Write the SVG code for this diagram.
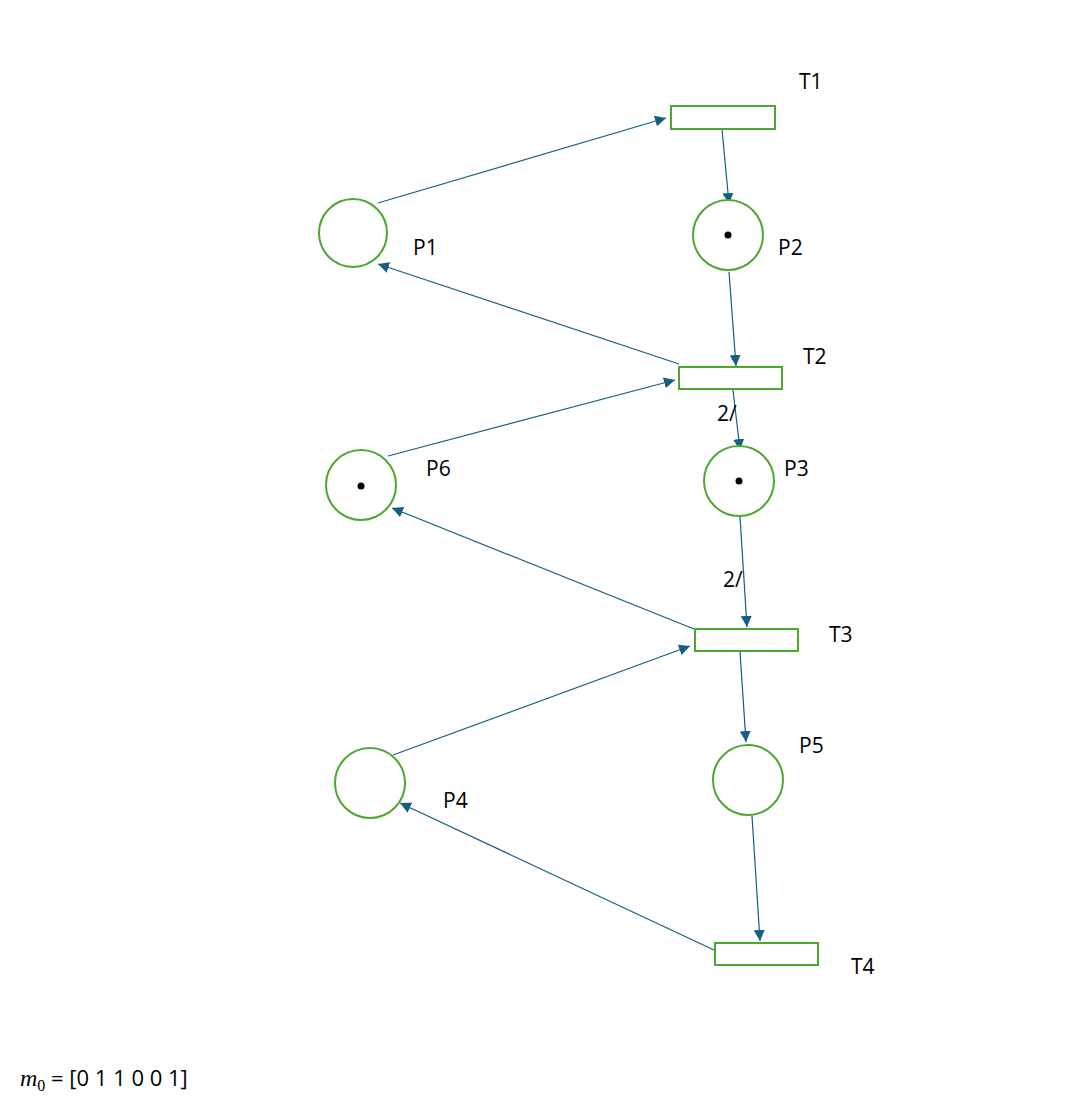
<svg xmlns="http://www.w3.org/2000/svg" width="1074" height="1112" viewBox="0 0 1074 1112">
<style>
.p{fill:#fff;stroke:#4ea72e;stroke-width:2}
.t{fill:#fff;stroke:#4ea72e;stroke-width:2}
.l{font-family:"Open Sans","Liberation Sans",sans-serif;font-size:21px;fill:#000}
.a{stroke:#156082;stroke-width:1.2;fill:none;marker-end:url(#ah)}
</style>
<defs><marker id="ah" viewBox="0 0 10 10" refX="10" refY="5" markerWidth="11" markerHeight="11" markerUnits="userSpaceOnUse" orient="auto"><path d="M0,0L10,5L0,10z" fill="#156082"/></marker></defs>
<rect width="1074" height="1112" fill="#fff"/>
<g id="connectors">
<line class="a" x1="378" y1="203" x2="666" y2="118"/>
<line class="a" x1="722" y1="129" x2="729" y2="204"/>
<line class="a" x1="729" y1="272" x2="736" y2="366"/>
<line class="a" x1="679" y1="364" x2="378" y2="264"/>
<line class="a" x1="388" y1="456" x2="675" y2="380"/>
<line class="a" x1="733" y1="390" x2="740" y2="450"/>
<line class="a" x1="740" y1="517" x2="747" y2="627"/>
<line class="a" x1="694" y1="629" x2="392" y2="508"/>
<line class="a" x1="393" y1="755" x2="690" y2="646"/>
<line class="a" x1="740" y1="652" x2="746" y2="742"/>
<line class="a" x1="752" y1="816" x2="760" y2="941"/>
<line class="a" x1="714" y1="950" x2="400" y2="803"/>
</g>
<g id="T1"><rect class="t" x="671" y="106" width="104" height="23"/><text class="l" x="799" y="89">T1</text></g>
<g id="P1"><circle class="p" cx="353" cy="233" r="34"/><text class="l" x="413" y="255">P1</text></g>
<g id="P2"><circle class="p" cx="728" cy="235" r="35"/><circle cx="728" cy="235" r="3.5"/><text class="l" x="778" y="255">P2</text></g>
<g id="T2"><rect class="t" x="679" y="367" width="103" height="22"/><text class="l" x="803" y="364">T2</text></g>
<g id="P6"><circle class="p" cx="361" cy="485" r="35"/><circle cx="361" cy="486" r="3.5"/><text class="l" x="426" y="476">P6</text></g>
<g id="P3"><circle class="p" cx="739" cy="481" r="35"/><circle cx="739" cy="481" r="3.5"/><text class="l" x="784" y="476">P3</text></g>
<g id="T3"><rect class="t" x="695" y="629" width="103" height="22"/><text class="l" x="829" y="642">T3</text></g>
<g id="P4"><circle class="p" cx="370" cy="783" r="35"/><text class="l" x="443" y="808">P4</text></g>
<g id="P5"><circle class="p" cx="748" cy="780" r="35"/><text class="l" x="799" y="753">P5</text></g>
<g id="T4"><rect class="t" x="715" y="943" width="103" height="22"/><text class="l" x="851" y="974">T4</text></g>
<text class="l" x="717" y="421">2/</text>
<text class="l" x="723" y="587">2/</text>
<text class="l" x="20" y="1086"><tspan font-family="'Liberation Serif',serif" font-style="italic" font-size="24">m</tspan><tspan font-family="'Liberation Serif',serif" font-size="16" dy="5">0</tspan><tspan dy="-5" font-size="22"> = [0 1 1 0 0 1]</tspan></text>
</svg>
